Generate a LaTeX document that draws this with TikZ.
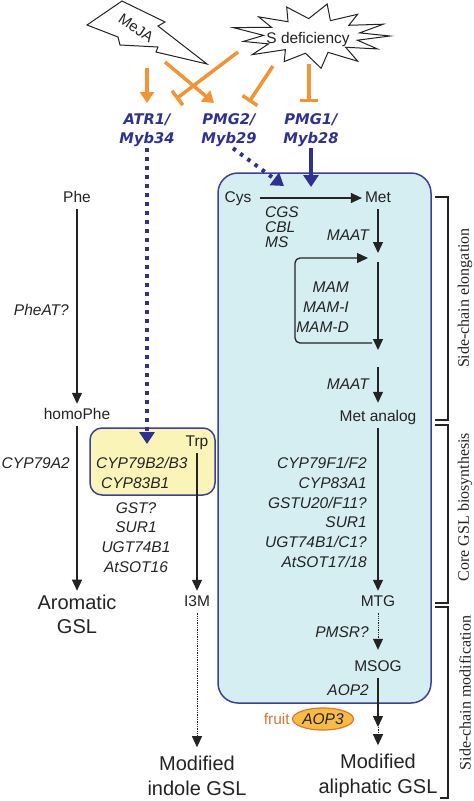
\documentclass[tikz,border=0pt]{standalone}
\usepackage{fontspec}
\setmainfont{Liberation Sans}
\newfontfamily\serfont{Liberation Serif}
\newfontfamily\verdfont{DejaVu Sans}[BoldFont={DejaVu Sans Bold},ItalicFont={DejaVu Sans Oblique},BoldItalicFont={DejaVu Sans Bold Oblique}]
\usetikzlibrary{arrows.meta,shapes.geometric}
\definecolor{orng}{RGB}{242,148,52}
\definecolor{dblue}{RGB}{46,49,146}
\definecolor{boxblue}{RGB}{60,64,155}
\definecolor{cyanfill}{RGB}{213,238,242}
\definecolor{yelfill}{RGB}{251,244,184}
\definecolor{ink}{RGB}{35,35,35}
\definecolor{aopfill}{RGB}{247,187,70}
\definecolor{aopline}{RGB}{222,120,40}
\definecolor{fruitc}{RGB}{214,120,50}
\begin{document}
\begin{tikzpicture}[x=1pt,y=-1pt,
  lbl/.style={font=\fontsize{15.5}{18}\selectfont, inner sep=1pt, text=ink, text height=11pt, text depth=3pt},
  enz/.style={font=\fontsize{15.5}{19.8}\selectfont\itshape, inner sep=1pt, text=ink},
  big/.style={font=\fontsize{20}{24.5}\selectfont, align=center, inner sep=1pt, text=ink},
  tf/.style={font=\verdfont\bfseries\itshape\fontsize{14.7}{19}\selectfont, text=dblue, align=center, inner sep=1pt},
  arr/.style={draw=ink, line width=1.3pt, shorten <=3pt, shorten >=3pt, -{Triangle[length=11pt,width=10pt]}},
  darr/.style={arr, densely dotted, line width=1pt},
  oarr/.style={draw=orng, line width=3.5pt, -{Triangle[length=11pt,width=14pt]}},
  oinh/.style={draw=orng, line width=3.5pt, -{Bar[width=18pt]}},
  barr/.style={draw=dblue, line width=4pt, -{Triangle[length=12pt,width=15pt]}},
  bdot/.style={barr, dash pattern=on 3.5pt off 5.5pt},
  brk/.style={draw=ink, line width=1.4pt},
  brl/.style={font=\serfont\fontsize{16}{18}\selectfont, rotate=90, text=ink},
]
\useasboundingbox (0,0) rectangle (474,801);
% boxes
\node[draw=boxblue, fill=cyanfill, line width=1.5pt, rounded corners=20pt, minimum width=213pt, minimum height=530pt, inner sep=0pt] (bbox) at (324.5,438) {};
\node[draw=boxblue, fill=yelfill, line width=1.5pt, rounded corners=12pt, minimum width=125pt, minimum height=67pt, inner sep=0pt] (ybox) at (152.5,461.5) {};
% MeJA bolt
\draw[ink, line width=1pt, fill=white, line join=miter] (87,25) -- (122,1) -- (165,22) -- (158,26) -- (207,64) -- (156,52) -- (158,47) -- (120,45) -- (118,37) -- cycle;
\node[font=\fontsize{15}{17}\selectfont, text=ink, inner sep=0pt, rotate=-34] (meja) at (136,28) {MeJA};
% S deficiency star
\draw[ink, line width=1pt, fill=white] (390,36)
  \foreach \a/\r in {14/0.6, 28/0.95, 42/0.58, 56/1.05, 70/0.6, 84/1.12, 98/0.6, 112/0.95, 126/0.58, 140/1.0, 154/0.62, 168/0.9, 182/0.62, 196/1.05, 210/0.6, 224/0.95, 238/0.58, 252/1.05, 266/0.6, 280/1.12, 294/0.58, 308/0.95, 322/0.6, 336/1.0, 350/0.62}
  { -- ({312+78*\r*cos(\a)},{36+29*\r*sin(\a)}) } -- cycle;
\node[font=\fontsize{15.4}{17}\selectfont, text=ink, inner sep=0pt] (sdef) at (308,40) {S deficiency};
% transcription factors
\node[tf] (atr) at (147,130.5) {ATR1/\\Myb34};
\node[tf] (pmg2) at (229,130.5) {PMG2/\\Myb29};
\node[tf] (pmg1) at (311,130.5) {PMG1/\\Myb28};
% orange regulation
\coordinate (m1) at (147,68); \coordinate (atrTop) at (147,103);
\coordinate (m2) at (165,62); \coordinate (pmg2Top) at (214,103);
\coordinate (s1) at (238,52); \coordinate (atrInh) at (176,99);
\coordinate (s2) at (273,66); \coordinate (pmg2Inh) at (249,102);
\coordinate (s3) at (309,64); \coordinate (pmg1Inh) at (309,102);
\draw[oarr] (m1) -- (atrTop);
\draw[oarr] (m2) -- (pmg2Top);
\draw[oinh] (s1) -- (atrInh);
\draw[oinh] (s2) -- (pmg2Inh);
\draw[oinh] (s3) -- (pmg1Inh);
% blue connectors
\coordinate (atrEnd) at (147,444);
\coordinate (cysIn) at (284,186);
\coordinate (metIn) at (311,187);
\draw[bdot] (atr.south) -- (atrEnd);
\draw[bdot] ([xshift=4pt]pmg2.south) -- (cysIn);
\draw[barr] (pmg1.south) -- (metIn);
% aromatic branch
\node[lbl] (phe) at (77,198) {Phe};
\node[lbl] (homophe) at (77,415) {homoPhe};
\node[enz, anchor=east] (pheat) at (70,310) {PheAT?};
\node[enz, anchor=east] (cyp79a2) at (71,463) {CYP79A2};
\node[big] (arom) at (77,614.5) {Aromatic\\GSL};
\draw[arr] (phe) -- (homophe);
\draw[arr] (homophe) -- (arom);
\node[enz, align=center] (indenz) at (136,537.5) {GST?\\SUR1\\UGT74B1\\AtSOT16};
% indole branch
\node[lbl] (trp) at (197,442) {Trp};
\node[enz, anchor=west] (cyp79b) at (95,463) {CYP79B2/B3};
\node[enz, anchor=west] (cyp83b) at (100,483) {CYP83B1};
\node[lbl] (i3m) at (197,602) {I3M};
\node[big] (modind) at (197,776) {Modified\\indole GSL};
\draw[arr] (trp) -- (i3m);
\draw[darr, shorten >=8pt] (i3m) -- (modind);
% aliphatic branch
\node[lbl] (cys) at (238,198) {Cys};
\node[lbl] (met) at (378,198) {Met};
\draw[arr, shorten <=7pt, shorten >=2pt] (cys) -- (met);
\node[enz, align=left, anchor=west, font=\fontsize{15.5}{15}\selectfont\itshape] (cgs) at (264,227) {CGS\\CBL\\MS};
\coordinate (j1) at (378,258);
\coordinate (j2) at (378,343);
\coordinate (la) at (295,343);
\coordinate (lb) at (295,258);
\draw[arr, shorten >=5pt] (met) -- (j1);
\node[enz, anchor=east] (maat1) at (370,235) {MAAT};
\draw[arr, shorten <=4pt, shorten >=-7pt] (j1) -- (j2);
\draw[arr, rounded corners=5pt, shorten <=0pt, shorten >=10pt] ([xshift=-6pt]j2) -- (la) -- (lb) -- (j1);
\node[enz, align=right, anchor=east] (mam) at (350,307) {MAM\\MAM-I\\MAM-D};
\node[lbl] (metan) at (378,417) {Met analog};
\draw[arr, shorten <=24pt, shorten >=6pt] (j2) -- (metan);
\node[enz, anchor=east] (maat2) at (370,384) {MAAT};
\node[lbl] (mtg) at (378,602) {MTG};
\draw[arr] (metan) -- (mtg);
\node[enz, align=right, anchor=east] (coreenz) at (368,512.5) {CYP79F1/F2\\CYP83A1\\GSTU20/F11?\\SUR1\\UGT74B1/C1?\\AtSOT17/18};
\node[lbl] (msog) at (378,667) {MSOG};
\draw[darr, shorten >=9pt] (mtg) -- (msog);
\node[enz, anchor=east] (pmsr) at (370,632) {PMSR?};
\node[enz, anchor=east] (aop2) at (370,690) {AOP2};
\coordinate (j3) at (378,727);
\draw[arr, shorten >=0pt] (msog) -- (j3);
\node[big] (modali) at (378,776) {Modified\\aliphatic GSL};
\draw[darr, shorten <=0pt, shorten >=8pt] (j3) -- (modali);
\node[draw=aopline, fill=aopfill, ellipse, line width=1.2pt, minimum width=61pt, minimum height=22pt, inner sep=0pt, font=\fontsize{15.5}{17}\selectfont\itshape, text=ink] (aop3) at (323,719) {AOP3};
\node[font=\fontsize{15.5}{17}\selectfont, text=fruitc, anchor=east, inner sep=2pt] (fruit) at (aop3.west) {fruit};
% brackets
\draw[brk] (435,197) -- (448,197) -- (448,420) -- (435,420);
\draw[brk] (435,425) -- (448,425) -- (448,603) -- (435,603);
\draw[brk] (435,607) -- (448,607) -- (448,798) -- (440,798);
\node[brl] (lb1) at (465,298) {Side-chain elongation};
\node[brl] (lb2) at (465,507) {Core GSL biosynthesis};
\node[brl] (lb3) at (465,693) {Side-chain modification};
\end{tikzpicture}
\end{document}
